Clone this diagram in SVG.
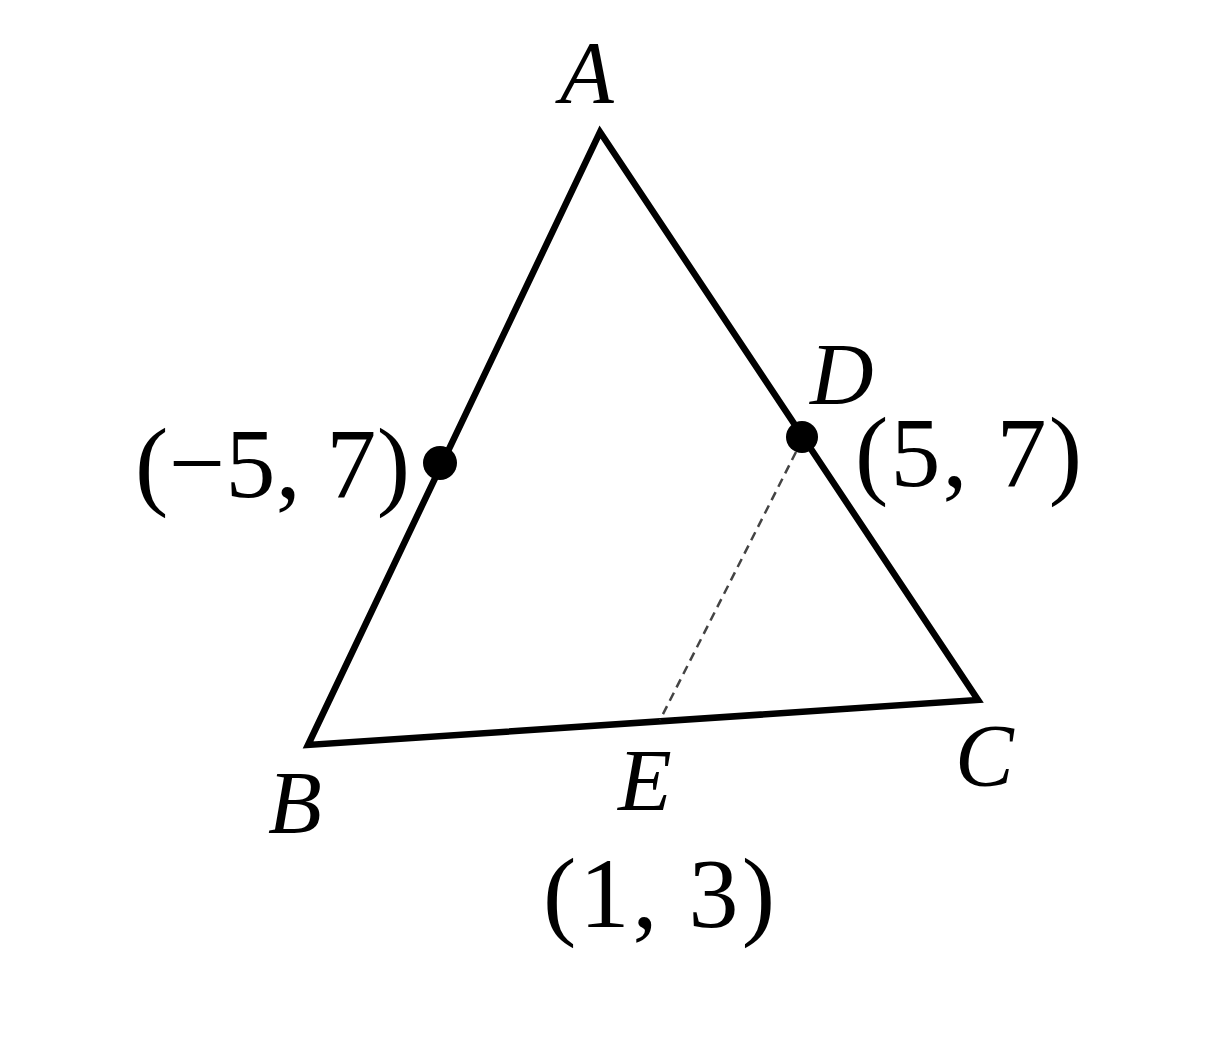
<svg xmlns="http://www.w3.org/2000/svg" width="1212" height="1050" viewBox="0 0 1212 1050">
<style>
.lbl{font-family:"Liberation Serif","Times New Roman",serif;font-style:italic;font-size:88px;fill:#000}
.co{font-family:"Liberation Serif","Times New Roman",serif;font-size:100px;fill:#000}
</style>
<rect width="1212" height="1050" fill="#fff"/>
<g id="connectors">
<polygon points="600,132 978,700 308,745" fill="none" stroke="#000" stroke-width="6.5" stroke-linejoin="miter"/>
<line x1="796" y1="452" x2="660" y2="720" stroke="#444" stroke-width="2.5" stroke-dasharray="9,6"/>
</g>
<g id="pointP"><circle cx="440" cy="463" r="17" fill="#000"/><text class="co" x="135" y="497" textLength="275" lengthAdjust="spacing">(−5, 7)</text></g>
<g id="pointD"><circle cx="802" cy="437" r="16" fill="#000"/><text class="lbl" x="810" y="404">D</text><text class="co" x="855" y="486" textLength="227" lengthAdjust="spacing">(5, 7)</text></g>
<g id="pointA"><text class="lbl" x="560" y="102">A</text></g>
<g id="pointB"><text class="lbl" x="268" y="832">B</text></g>
<g id="pointC"><text class="lbl" x="955" y="785">C</text></g>
<g id="pointE"><text class="lbl" x="618" y="810">E</text><text class="co" x="543" y="927" textLength="232" lengthAdjust="spacing">(1, 3)</text></g>
</svg>
